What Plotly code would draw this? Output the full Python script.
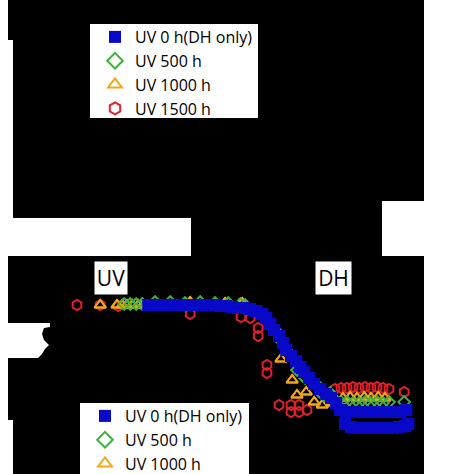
import plotly.graph_objects as go

# ---------------- data (arbitrary normalised units) ----------------
uv0_x = [17.8, 19.3, 20.8, 22.3, 23.8, 25.3, 26.8, 28.3, 29.8, 31.3, 32.8, 34.3,
         35.8, 37.3, 38.8, 40.3, 41.8, 43.3, 44.8, 46.3, 47.3, 48.3, 49.3, 50.5,
         51.5, 52.3, 53.5, 54.8, 55.8, 56.8, 58.0, 59.3, 60.8, 62.3, 63.5, 64.8,
         65.8, 67.3, 68.8, 70.3, 71.8, 73.3, 74.8, 76.3, 77.8, 79.3, 80.8, 82.3,
         67.0, 68.5, 70.0, 71.5, 73.0, 74.5, 76.0, 77.5, 79.0, 80.5, 82.0, 82.8]
uv0_y = [100, 100, 100, 100, 100, 100, 100, 100, 100, 100, 100, 100,
         99.2, 99.2, 98.4, 97.6, 97.6, 96.8, 95.2, 92.8, 89.6, 84.8, 80.0, 75.2,
         69.6, 64.0, 59.2, 55.2, 50.4, 46.4, 41.6, 36.8, 32.8, 28.8, 25.6, 21.6,
         16.0, 14.4, 14.4, 14.4, 14.4, 14.4, 14.4, 14.4, 14.4, 14.4, 14.4, 16.0,
         4.8, 2.4, 1.6, 1.6, 1.6, 1.6, 1.6, 1.6, 1.6, 2.4, 3.2, 4.8]

uv500_x = [11.8, 13.3, 14.8, 16.3, 19.5, 23.3, 27.0, 30.8, 34.5, 37.8, 40.8, 42.0,
           49.5, 50.8, 52.8, 55.0, 57.0, 60.3, 61.5, 63.3,
           64.5, 66.0, 67.5, 69.0, 70.5, 72.0, 73.5, 75.0, 76.5, 78.0, 81.8]
uv500_y = [100.8, 100.8, 100.8, 100.8, 102.4, 102.4, 101.6, 102.4, 101.6, 101.6, 100.8, 100,
           80, 72, 62.4, 48, 41.6, 35.2, 28, 29.6,
           24, 22.4, 22.4, 21.6, 21.6, 22.4, 21.6, 22.4, 21.6, 22.4, 22.4]

uv1000_x = [5.8, 10.0, 11.3, 12.5, 13.8, 15.3, 16.5, 28.3, 37.0, 41.3,
            51.0, 53.8, 55.0, 57.3, 59.3, 61.3, 64.0,
            66.5, 68.3, 70.0, 71.8, 73.5, 75.3, 77.0]
uv1000_y = [100, 100, 100, 100, 100, 100, 100, 102.4, 101.6, 101.6,
            56.8, 40, 28, 30.4, 22.4, 20, 21.6,
            25.6, 26.4, 25.6, 26.4, 25.6, 26.4, 25.6]

uv1500_x = [0.0, 5.8, 10.3, 28.3, 41.0, 43.3, 45.3, 45.3, 47.5, 47.5,
            50.5, 53.5, 53.5, 55.5, 55.5, 57.5,
            64.5, 66.0, 67.5, 69.0, 70.5, 72.0, 73.5, 75.0, 76.5, 78.0, 81.8]
uv1500_y = [100, 100, 99.2, 92.8, 90.4, 89.6, 81.6, 75.2, 52, 45.6,
            20, 20, 14.4, 20, 14.4, 16,
            32.8, 33.6, 33.6, 34.4, 33.6, 34.4, 33.6, 34.4, 33.6, 32.8, 30.4]

series_names = ["UV 0 h(DH only)", "UV 500 h", "UV 1000 h", "UV 1500 h"]
region_labels = ["UV", "DH"]

# ---------------- styles ----------------
W = H = 474
FONT = "Open Sans"
styles = [
    dict(symbol="square", color="#0808C8", size=12, line=dict(width=0)),
    dict(symbol="diamond-open", color="#3CB43C", size=9, line=dict(width=1.6, color="#3CB43C")),
    dict(symbol="triangle-up-open", color="#F2A818", size=10, line=dict(width=1.8, color="#F2A818")),
    dict(symbol="hexagon-open", color="#E4202A", size=10, line=dict(width=2, color="#E4202A")),
]
data = [(uv0_x, uv0_y), (uv500_x, uv500_y), (uv1000_x, uv1000_y), (uv1500_x, uv1500_y)]

fig = go.Figure()
# draw red first, blue last (on top); legend order kept by legendrank
for leg, count in [("legend", 4), ("legend2", 3)]:
    for i in reversed(range(count)):
        xs, ys = data[i]
        fig.add_trace(go.Scatter(x=xs, y=ys, mode="markers", name=series_names[i],
                                 marker=styles[i], legend=leg, legendrank=i + 1,
                                 showlegend=True))


def px(x):
    return x / W


def py(y):
    return 1 - y / H


def rect(x0, y0, x1, y1, color="black"):
    return dict(type="rect", xref="paper", yref="paper", x0=px(x0), x1=px(x1),
                y0=py(y1), y1=py(y0), fillcolor=color, line=dict(width=0), layer="below")


shapes = [
    rect(13, 0, 424, 201), rect(8, 0, 13, 40), rect(13, 201, 191, 218),
    rect(191, 201, 382, 256), rect(8, 256, 424, 420), rect(13, 420, 424, 474),
    # legend boxes
    rect(90, 24, 258, 118, "white"), rect(80, 403, 249, 474, "white"),
]
blob = [(8, 323), (50, 323), (50, 327), (44, 328), (42, 334), (44, 340), (49, 345),
        (45, 349), (42, 354), (38, 358), (8, 358)]
path = "M " + " L ".join(f"{px(a):.4f},{py(b):.4f}" for a, b in blob) + " Z"
shapes.append(dict(type="path", xref="paper", yref="paper", path=path,
                   fillcolor="white", line=dict(width=0), layer="below"))

annotations = []
for text, cx, w in zip(region_labels, [111, 333.5], [30, 33]):
    annotations.append(dict(text=text, xref="paper", yref="paper", x=px(cx), y=py(278),
                            xanchor="center", yanchor="middle", showarrow=False,
                            bgcolor="white", width=w, height=30,
                            font=dict(family=FONT, size=21, color="black")))

legend_common = dict(xanchor="left", yanchor="top", bgcolor="rgba(0,0,0,0)",
                     borderwidth=3, bordercolor="rgba(0,0,0,0)",
                     font=dict(family=FONT, size=16, color="black"),
                     itemsizing="constant", tracegroupgap=0)

fig.update_layout(
    width=W, height=H, margin=dict(l=0, r=0, t=0, b=0, autoexpand=False),
    paper_bgcolor="white", plot_bgcolor="rgba(0,0,0,0)",
    xaxis=dict(range=[-19.25, 99.25], visible=False),
    yaxis=dict(range=[-35.2, 344], visible=False),
    shapes=shapes, annotations=annotations,
    legend=dict(x=px(92), y=py(17), **legend_common),
    legend2=dict(x=px(82), y=py(396), **legend_common),
)

fig.write_html("out.html", config={"displayModeBar": False},
               post_script="document.body.style.margin='0';")
